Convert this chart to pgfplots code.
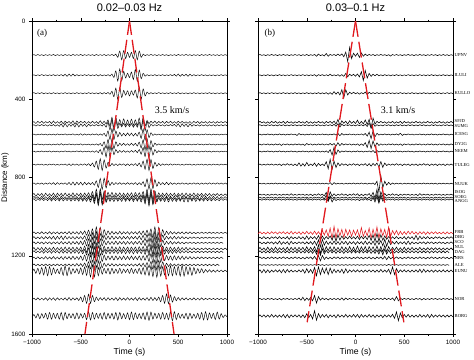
\documentclass[border=0pt]{standalone}
\usepackage{pgfplots}
\pgfplotsset{compat=1.18}
\usepackage{fontspec}
\setmainfont{Liberation Sans}
\newfontfamily\tms{Liberation Serif}
\definecolor{myred}{RGB}{225,25,30}

\pgfplotsset{
  sect/.style={
    scale only axis, width=195pt, height=313pt,
    xmin=-1000, xmax=1000, ymin=0, ymax=1600, y dir=reverse,
    xtick={-1000,-500,0,500,1000},
    xticklabels={−1000,−500,0,500,1000},
    ytick={0,400,800,1200,1600},
    minor x tick num=1,
    tick align=outside, tick pos=both,
    major tick length=3pt, minor tick length=1.5pt,
    tick style={black,line width=0.4pt},
    axis line style={line width=0.5pt},
    tick label style={font=\fontsize{6.3}{6.3}\selectfont},
    xlabel={Time (s)},
    xlabel style={font=\fontsize{8.7}{8.7}\selectfont, at={(axis description cs:0.5,0)}, anchor=center, yshift=-18pt},
    title style={font=\fontsize{11}{11}\selectfont, at={(axis description cs:0.5,1)}, anchor=south, inner sep=0pt, yshift=3pt},
    clip=false,
  },
  wa/.style={black, line width=0.45pt, smooth},
  wb/.style={black, line width=0.55pt},
}
\tikzset{lab/.style={font=\tms\fontsize{4.6}{4.6}\selectfont, anchor=west, inner sep=0pt, xshift=1.5pt}}
% \mk{name}{distance of the trace in km}{gain x10}{amplitudes, one sample every 20 s from -1000 s}
\newcommand\mk[4]{%
  \gdef\cl{}%
  \foreach \v [count=\i from 0] in {#4}{%
    \xdef\cl{\cl(\the\numexpr\i*20-1000\relax,\the\numexpr\v*#3/10+#2\relax)}%
  }%
  \global\expandafter\let\csname tr#1\endcsname\cl}
\newcommand\plt[2]{\edef\tmp{\noexpand\addplot[#1] coordinates {\csname tr#2\endcsname};}\tmp}

% ---- panel (a), 0.02-0.03 Hz ----
\mk{Aa}{174}{10}{2,-2,2,-3,2,-2,3,-2,2,-2,2,-3,3,-2,2,-2,3,-3,2,-2,3,-3,2,-2,2,-3,3,-2,2,-2,2,-2,3,-3,2,-2,2,-3,3,-2,2,-3,3,-5,12,-20,24,-22,18,-14,12,-14,18,-22,24,-20,12,-5,3,-2,2,-3,2,-2,3,-2,2,-3,2,-2,3,-2,2,-2,3,-3,2,-2,2,-3,2,-2,3,-2,2,-2,3,-3,2,-2,2,-3,2,-2,2,-2,3,-2,2,-2,2}
\mk{Ab}{277}{10}{2,-2,3,-2,2,-3,2,-2,3,-2,2,-3,3,-2,2,-3,4,-5,6,-6,5,-6,4,-3,3,-2,2,-3,2,-3,3,-2,2,-3,4,-3,3,-2,3,-3,4,-6,12,-22,30,-32,28,-20,14,-10,12,-16,22,-30,32,-26,18,-10,5,-3,3,-2,2,-3,3,-2,2,-3,3,-2,2,-3,3,-4,5,-6,6,-5,4,-5,6,-5,4,-3,3,-2,2,-3,2,-2,3,-2,2,-2,3,-2,2,-3,2,-2,2}
\mk{Ac}{369}{10}{2,-3,2,-2,2,-3,3,-2,2,-2,3,-3,2,-2,3,-2,2,-3,2,-2,3,-2,2,-3,2,-2,3,-2,2,-3,2,-2,3,-2,3,-3,4,-3,3,-4,6,-10,18,-26,32,-28,22,-14,10,-12,14,-12,10,-16,24,-30,30,-22,14,-6,4,-3,3,-2,2,-3,2,-2,3,-2,2,-3,2,-2,2,-3,3,-2,2,-2,3,-2,2,-3,2,-2,3,-2,2,-2,2,-3,2,-2,3,-2,2,-2,3,-2,2}
\mk{Ad}{518}{10}{5,-4,6,-5,4,-6,5,-4,3,-5,6,-7,5,-4,5,-6,7,-6,4,-5,6,-8,9,-7,5,-6,4,-5,6,-4,5,-6,5,-4,6,-8,7,-6,8,-12,20,-26,28,-24,16,-14,16,-18,15,-12,14,-16,15,-13,16,-22,28,-26,18,-10,7,-6,5,-7,6,-5,4,-5,6,-5,4,-6,5,-4,5,-6,4,-5,4,-3,5,-4,6,-5,4,-5,6,-4,3,-4,5,-4,3,-4,5,-4,3,-4,3,-4,3}
\mk{Ae}{533}{10}{3,-3,4,-3,3,-4,3,-3,4,-3,3,-4,4,-3,5,-7,9,-10,8,-6,5,-7,9,-10,9,-7,5,-6,8,-6,4,-3,3,-4,3,-3,4,-6,10,-16,24,-30,30,-24,16,-10,8,-10,9,-8,7,-9,10,-8,10,-16,24,-30,28,-20,12,-6,4,-3,3,-4,3,-3,4,-3,3,-4,3,-5,6,-8,9,-8,6,-7,8,-7,5,-4,3,-3,4,-3,3,-3,4,-3,3,-3,4,-3,3,-3,3,-3,3}
\mk{Af}{580}{10}{2,-2,3,-2,2,-3,2,-2,3,-2,2,-2,3,-3,2,-2,2,-3,3,-2,2,-3,3,-2,3,-4,4,-3,3,-2,3,-3,2,-3,4,-3,4,-6,10,-18,26,-30,26,-18,12,-10,8,-6,7,-8,6,-7,8,-6,8,-12,20,-28,30,-24,16,-9,5,-3,3,-2,3,-3,2,-2,3,-2,2,-3,3,-2,2,-2,3,-2,2,-3,3,-2,2,-2,3,-2,2,-3,2,-2,3,-2,2,-2,3,-2,2,-2,2}
\mk{Ag}{631}{10}{3,-2,2,-3,2,-2,3,-2,2,-2,3,-2,2,-3,3,-4,3,-2,2,-3,2,-2,3,-2,2,-3,3,-2,2,-2,3,-2,3,-3,4,-5,8,-14,20,-26,30,-28,22,-14,9,-6,5,-6,5,-4,5,-6,5,-6,8,-12,18,-24,28,-30,26,-20,12,-7,4,-3,3,-2,2,-3,2,-2,3,-2,2,-3,2,-2,3,-2,2,-2,3,-2,2,-3,2,-2,3,-2,2,-3,2,-2,3,-2,2,-2,3,-2,2}
\mk{Ah}{667}{10}{2,-2,3,-2,2,-3,2,-2,2,-3,3,-2,2,-2,3,-2,2,-3,2,-2,3,-2,2,-3,2,-3,3,-2,2,-2,3,-3,4,-4,6,-10,16,-22,28,-30,28,-22,16,-10,6,-5,4,-5,4,-3,4,-5,4,-6,6,-10,14,-20,26,-30,30,-24,18,-10,6,-4,3,-3,2,-2,3,-2,2,-3,2,-2,3,-2,2,-2,3,-2,2,-3,2,-2,3,-2,2,-3,2,-2,3,-2,2,-2,3,-2,2,-2,2}
\mk{Ai}{734}{10}{3,-2,3,-3,2,-3,3,-2,3,-3,2,-3,3,-2,3,-3,2,-3,4,-4,5,-4,3,-3,4,-3,3,-4,4,-5,6,-8,12,-18,24,-30,30,-24,18,-12,8,-6,5,-4,5,-4,3,-4,5,-4,5,-4,4,-5,6,-8,12,-18,24,-28,30,-26,20,-12,8,-6,5,-4,3,-3,3,-4,3,-3,2,-3,3,-2,3,-3,2,-3,3,-2,3,-3,2,-3,3,-2,3,-2,3,-3,2,-2,3,-3,2,-2,2}
\mk{Aj}{831}{10}{3,-3,4,-3,3,-3,4,-3,3,-4,4,-5,6,-5,4,-3,3,-4,5,-6,7,-8,8,-7,6,-7,8,-7,6,-5,5,-6,8,-14,20,-26,30,-28,22,-16,10,-7,6,-5,4,-5,4,-3,4,-5,4,-3,4,-5,6,-5,6,-10,16,-24,28,-30,26,-20,14,-8,6,-5,6,-7,6,-5,4,-3,4,-3,3,-4,3,-3,4,-3,3,-4,3,-3,4,-3,3,-3,3,-4,3,-3,3,-4,3,-3,3,-3,3}
\mk{Ak}{888}{10}{6,-7,8,-6,5,-7,9,-8,6,-5,7,-9,10,-8,6,-7,8,-9,7,-6,8,-10,9,-7,6,-8,10,-9,8,-10,12,-16,22,-28,32,-30,24,-18,14,-12,10,-12,11,-9,8,-10,9,-8,10,-9,8,-10,12,-11,9,-10,12,-16,22,-28,32,-30,26,-20,14,-10,9,-8,7,-9,8,-7,6,-8,9,-7,6,-8,10,-9,8,-6,7,-9,8,-6,5,-7,8,-6,5,-6,7,-5,4,-6,5,-4,5,-4,4}
\mk{Al}{903}{10}{5,-6,4,-5,6,-7,6,-5,6,-7,8,-7,6,-8,9,-8,6,-5,7,-8,9,-8,7,-6,8,-9,10,-8,7,-9,11,-14,18,-24,30,-32,28,-22,16,-12,10,-9,8,-10,9,-8,7,-9,10,-8,9,-8,10,-12,10,-9,11,-14,20,-26,30,-32,28,-22,16,-11,9,-10,8,-9,10,-8,7,-9,10,-12,11,-9,8,-7,9,-10,11,-9,8,-10,12,-10,9,-8,7,-6,8,-7,5,-6,7,-5,4,-5,4}
\mk{Am}{913}{10}{4,-5,6,-5,4,-6,5,-4,5,-6,7,-6,5,-6,7,-8,7,-6,5,-7,8,-7,6,-7,8,-9,8,-7,9,-10,12,-15,20,-26,30,-32,28,-20,14,-10,9,-8,10,-9,8,-7,9,-10,9,-8,7,-9,10,-9,8,-10,12,-16,22,-28,32,-30,26,-18,12,-10,9,-8,10,-11,12,-10,9,-8,10,-9,8,-10,12,-14,12,-10,8,-9,10,-8,7,-6,8,-7,6,-5,7,-6,5,-4,6,-5,4,-4,4}
\mk{An}{1083}{10}{4,-5,4,-3,5,-6,5,-4,5,-6,6,-5,4,-5,6,-5,4,-5,6,-7,7,-6,5,-6,7,-8,8,-10,12,-14,16,-20,26,-30,32,-28,22,-16,12,-10,9,-8,7,-6,7,-8,7,-6,5,-6,7,-6,5,-6,7,-8,9,-10,12,-14,16,-20,26,-30,32,-28,22,-16,12,-9,8,-7,6,-5,6,-5,4,-5,6,-5,4,-5,4,-3,4,-3,3,-4,3,-3,3,-4,3,-3,3,-3,3,-3,3,-3,3}
\mk{Ao}{1108}{10}{5,-6,5,-4,5,-6,7,-6,5,-6,7,-8,9,-8,7,-9,10,-9,7,-6,5,-6,7,-6,5,-6,8,-10,13,-16,20,-26,30,-32,28,-22,16,-12,10,-9,8,-9,8,-7,6,-7,8,-7,6,-7,8,-7,6,-7,8,-9,10,-12,14,-17,20,-24,28,-32,30,-26,20,-14,10,-8,7,-6,7,-8,7,-6,5,-6,5,-4,5,-4,3,-4,3,-3,4,-3,3,-3,3,-3,3,-3,3,-3,3,-3,3}
\mk{Ap}{1134}{10}{4,-5,6,-5,4,-5,6,-5,4,-5,6,-5,4,-5,6,-7,6,-5,6,-7,8,-7,6,-7,8,-9,10,-12,16,-20,24,-28,32,-30,26,-20,15,-12,10,-9,8,-7,8,-9,8,-7,6,-7,8,-7,6,-7,8,-7,6,-8,10,-12,14,-16,20,-24,28,-32,30,-26,20,-14,10,-8,7,-8,7,-6,5,-6,5,-4,5,-4,3,-4,3,-3,4,-3,3,-3,3,-3,3,-3,3,-3,3,-3,3,-3,3}
\mk{Aq}{1165}{10}{6,-7,8,-7,6,-8,9,-8,7,-6,8,-9,8,-7,6,-8,9,-10,9,-8,7,-9,10,-9,8,-10,12,-14,18,-22,26,-30,32,-30,26,-20,16,-14,12,-10,11,-12,10,-9,10,-11,12,-10,9,-10,11,-10,9,-10,12,-11,10,-12,14,-16,20,-24,28,-32,30,-26,22,-16,12,-10,11,-10,9,-8,10,-9,8,-7,6,-8,7,-6,5,-6,5,-4,5,-4,4,-5,4,-4,5,-4,4,-4,4,-4,4,-4,4}
\mk{Ar}{1180}{10}{5,-6,5,-4,5,-6,7,-6,5,-6,7,-6,5,-6,7,-8,7,-6,7,-8,9,-8,7,-8,9,-10,10,-12,16,-20,26,-30,30,-28,24,-20,16,-12,10,-9,10,-9,8,-9,10,-9,8,-9,10,-9,8,-9,10,-9,8,-10,9,-11,13,-16,20,-24,28,-30,30,-26,20,-16,12,-10,9,-8,9,-8,7,-8,7,-6,5,-6,5,-4,5,-4,4,-4,4,-4,4,-4,4,-4,4,-4,4,-4,4,-4,4}
\mk{As}{1211}{10}{5,-4,5,-6,5,-4,6,-7,6,-5,6,-7,6,-5,6,-7,8,-7,6,-7,8,-9,8,-7,8,-10,12,-14,16,-20,24,-28,30,-30,26,-22,18,-14,12,-10,9,-10,11,-10,9,-8,9,-10,9,-8,9,-10,9,-8,9,-10,12,-11,12,-14,18,-22,26,-30,30,-28,22,-18,14,-12,11,-10,12,-11,10,-9,8,-9,8,-7,6,-7,6,-5,6,-5,4,-5,4,-4,4,-4,4,-4,4,-4,4,-4,4}
\mk{At}{1247}{10}{4,-5,4,-4,5,-4,4,-5,4,-4,5,-4,4,-5,4,-4,5,-5,4,-5,6,-5,6,-7,6,-7,8,-10,12,-16,20,-24,26,-26,22,-18,14,-10,8,-7,6,-7,6,-5,6,-5,4,-5,6,-5,4,-5,6,-5,6,-7,8,-9,10,-12,14,-18,22,-26,26,-24,20,-16,12,-9,8,-7,6,-5,6,-5,4,-5,4,-4,4,-4,4,-4,4,-4,4,-4,4,-4,4,-4,4,-4,4,-4,4}
\mk{Au}{1278}{10}{8,-10,12,-14,16,-18,20,-22,24,-22,20,-16,12,-10,14,-18,22,-26,24,-20,16,-12,10,-12,14,-16,18,-20,22,-26,30,-32,30,-28,24,-20,16,-14,12,-14,16,-14,12,-10,12,-14,12,-10,8,-10,12,-14,12,-10,12,-14,16,-18,20,-22,24,-26,28,-30,32,-30,26,-22,20,-22,24,-26,24,-22,20,-24,26,-28,26,-22,18,-20,22,-18,14,-12,10,-12,10,-8,6,-7,6,-5,6,-5,4,-5,4,-4,4}
\mk{Av}{1421}{10}{3,-4,5,-6,5,-4,5,-6,7,-6,5,-6,7,-6,5,-4,5,-6,7,-8,7,-6,5,-6,8,-10,14,-18,22,-24,22,-18,14,-10,8,-7,6,-7,8,-7,6,-5,6,-7,8,-7,6,-5,6,-7,6,-5,6,-7,8,-7,6,-5,6,-7,8,-9,8,-7,8,-10,14,-18,22,-26,24,-20,16,-12,9,-8,7,-6,5,-6,5,-4,5,-6,5,-4,5,-6,5,-4,3,-4,3,-3,3,-3,3,-3,3,-3,3}
\mk{Aw}{1508}{10}{6,-8,10,-12,14,-12,10,-14,16,-18,16,-14,12,-14,16,-18,20,-18,14,-12,10,-12,14,-16,14,-12,10,-14,18,-22,20,-18,16,-14,12,-14,16,-18,16,-14,12,-14,16,-18,20,-18,14,-12,14,-16,18,-20,18,-16,14,-12,14,-16,18,-20,22,-20,16,-14,12,-14,16,-18,16,-14,18,-22,24,-22,18,-14,12,-10,12,-14,16,-14,12,-10,12,-14,16,-18,20,-22,20,-16,12,-14,18,-20,16,-12,8,-6,4}
% ---- panel (b), 0.03-0.1 Hz ----
\mk{Ba}{174}{15}{1,-2,1,-1,2,-1,1,-2,1,-1,2,-1,1,-2,1,-1,2,-1,1,-2,1,-1,2,-1,1,-2,2,-1,1,-2,4,-3,2,-1,3,-5,4,-2,1,-2,2,-3,2,-4,6,-10,22,-26,12,-6,4,-6,8,-7,4,-3,2,-2,1,-2,2,-1,1,-2,1,-1,2,-1,3,-2,1,-2,1,-1,2,-1,1,-2,1,-1,2,-1,1,-2,1,-1,2,-1,1,-2,1,-1,2,-1,1,-2,1,-1,2,-1,1}
\mk{Bb}{277}{15}{1,-1,2,-1,1,-2,1,-1,2,-1,1,-2,1,-1,2,-1,1,-2,1,-1,2,-1,1,-2,1,-1,2,-1,1,-2,3,-2,1,-2,2,-1,2,-3,2,-1,2,-2,3,-2,4,-6,5,-3,2,-3,3,-4,6,-12,18,-16,10,-6,4,-3,2,-3,2,-1,2,-2,1,-1,2,-1,1,-2,1,-1,2,-1,1,-2,1,-1,2,-1,1,-2,1,-1,2,-1,1,-2,1,-1,2,-1,1,-2,1,-1,2,-1,1}
\mk{Bc}{369}{15}{1,-2,1,-1,2,-1,1,-2,1,-1,2,-1,1,-2,1,-1,2,-1,1,-2,1,-1,2,-1,1,-2,1,-1,2,-1,1,-2,2,-1,2,-2,3,-2,4,-5,3,-4,6,-12,16,-12,6,-3,2,-3,2,-2,3,-2,2,-4,5,-3,2,-2,1,-2,1,-1,2,-1,1,-2,1,-1,2,-1,1,-2,1,-1,2,-1,1,-2,1,-1,2,-1,1,-2,1,-1,2,-1,1,-2,1,-1,2,-1,1,-2,1,-1,2}
\mk{Bd}{518}{15}{2,-3,2,-2,3,-2,3,-3,2,-3,3,-2,2,-3,4,-3,2,-2,3,-2,2,-3,2,-2,3,-4,3,-2,3,-2,2,-3,2,-2,4,-3,2,-3,3,-4,6,-10,9,-5,3,-4,6,-5,3,-3,4,-7,5,-3,5,-8,7,-10,18,-14,6,-3,2,-3,2,-2,3,-2,2,-3,3,-2,2,-3,4,-3,2,-2,3,-2,2,-3,2,-2,3,-2,2,-3,2,-2,3,-2,2,-3,2,-2,3,-2,2,-3,2}
\mk{Be}{533}{15}{1,-2,2,-1,2,-2,1,-2,2,-1,2,-2,1,-2,2,-1,2,-2,1,-2,2,-1,2,-2,1,-2,2,-1,2,-2,1,-2,2,-1,2,-2,1,-2,2,-3,3,-5,6,-4,2,-2,1,-2,2,-1,2,-2,1,-2,2,-3,4,-8,10,-6,3,-2,2,-1,2,-2,1,-2,2,-1,2,-2,1,-2,2,-1,2,-2,1,-2,2,-1,2,-2,1,-2,2,-1,2,-2,1,-2,2,-1,2,-2,1,-2,2,-1,2}
\mk{Bf}{580}{15}{1,-1,2,-1,1,-2,1,-1,2,-1,1,-2,1,-1,2,-1,1,-2,1,-1,3,-3,1,-1,2,-1,1,-2,1,-1,2,-1,1,-2,1,-1,2,-1,1,-2,2,-3,4,-3,2,-1,1,-2,1,-1,2,-1,1,-2,2,-3,5,-8,14,-12,8,-4,2,-1,1,-2,1,-1,2,-1,1,-2,2,-4,3,-1,1,-2,1,-1,2,-1,1,-2,1,-1,2,-1,1,-2,1,-1,2,-1,1,-2,1,-1,2,-1,1}
\mk{Bg}{631}{15}{2,-1,2,-2,1,-2,2,-1,2,-2,1,-2,3,-2,1,-2,2,-1,2,-2,1,-2,2,-1,3,-3,1,-2,2,-1,2,-2,1,-2,2,-1,2,-3,2,-3,5,-6,4,-3,2,-2,1,-2,2,-1,2,-2,3,-2,3,-6,10,-14,14,-12,8,-5,3,-2,2,-1,2,-2,1,-2,2,-1,2,-2,3,-2,1,-2,2,-1,2,-2,1,-2,2,-1,2,-2,1,-2,2,-1,2,-2,1,-2,2,-1,2,-2,1}
\mk{Bh}{667}{15}{1,-1,2,-1,1,-2,1,-1,2,-1,1,-2,1,-1,2,-1,1,-2,1,-1,2,-1,1,-2,1,-1,2,-1,1,-2,1,-1,2,-1,2,-2,3,-6,12,-14,10,-5,3,-2,1,-2,1,-1,2,-1,1,-2,1,-1,2,-1,1,-2,2,-3,4,-3,2,-1,1,-2,1,-1,2,-1,1,-2,1,-1,2,-1,1,-2,1,-1,2,-1,1,-2,1,-1,2,-1,1,-2,1,-1,2,-1,1,-2,1,-1,2,-1,1}
\mk{Bi}{734}{15}{1,-2,2,-1,2,-2,1,-2,2,-1,2,-2,3,-2,2,-3,2,-2,3,-2,4,-6,5,-3,5,-7,4,-2,3,-5,6,-4,3,-2,4,-10,14,-18,16,-12,10,-6,4,-3,2,-2,3,-2,2,-3,2,-2,3,-2,2,-3,4,-3,5,-4,3,-5,8,-10,9,-5,3,-2,2,-2,2,-3,2,-2,3,-2,2,-2,3,-2,2,-2,3,-2,2,-3,2,-2,3,-2,2,-2,3,-2,2,-2,3,-2,2,-2,2}
\mk{Bj}{831}{15}{1,-1,1,-1,2,-1,1,-1,1,-2,1,-1,1,-1,2,-1,1,-1,1,-1,2,-1,1,-1,1,-2,1,-1,1,-1,1,-2,1,-1,1,-1,2,-3,4,-3,2,-1,1,-1,2,-1,1,-1,1,-2,1,-1,1,-2,1,-1,2,-1,1,-2,3,-8,30,-26,14,-8,5,-4,3,-2,2,-1,1,-1,2,-1,1,-1,1,-1,2,-1,1,-1,1,-2,1,-1,1,-1,1,-1,2,-1,1,-1,1,-1,1,-1,1}
\mk{Bk}{888}{15}{2,-2,1,-2,2,-1,2,-2,1,-2,2,-1,2,-2,1,-2,2,-3,2,-1,2,-2,1,-2,2,-1,2,-2,3,-2,2,-3,2,-2,4,-8,14,-10,5,-3,3,-2,2,-3,2,-2,3,-2,2,-3,2,-3,4,-2,3,-2,2,-4,6,-8,12,-18,16,-10,6,-4,3,-2,2,-3,2,-2,3,-2,2,-2,1,-2,2,-1,2,-2,3,-4,2,-2,1,-2,2,-1,2,-2,1,-2,2,-1,2,-2,1,-2,1}
\mk{Bl}{903}{15}{1,-2,2,-1,2,-2,1,-2,2,-1,2,-2,1,-2,2,-1,2,-2,1,-2,2,-1,2,-2,1,-2,2,-1,2,-2,1,-2,2,-3,5,-8,10,-6,3,-2,2,-1,2,-2,1,-2,2,-1,2,-2,1,-2,2,-1,2,-2,3,-2,3,-5,8,-12,14,-10,6,-3,2,-2,1,-2,2,-1,2,-2,1,-2,2,-1,2,-2,1,-2,2,-1,2,-2,1,-2,2,-1,2,-2,1,-2,2,-1,2,-2,1,-2,1}
\mk{Bm}{913}{15}{2,-1,2,-2,1,-2,2,-1,2,-2,1,-2,2,-1,2,-2,1,-2,2,-1,2,-2,1,-2,2,-3,2,-1,2,-2,1,-2,2,-1,2,-3,6,-10,8,-4,3,-2,2,-1,2,-2,1,-2,2,-1,2,-2,3,-2,2,-3,2,-2,4,-6,8,-10,12,-9,5,-3,2,-2,1,-2,2,-1,2,-2,1,-2,2,-1,2,-2,1,-2,2,-1,2,-2,1,-2,2,-1,2,-2,1,-2,2,-1,2,-2,1,-2,1}
\mk{Bn}{1083}{15}{3,-4,3,-2,4,-3,3,-4,2,-3,4,-3,2,-4,3,-3,4,-5,4,-3,3,-4,5,-3,4,-5,4,-3,5,-6,5,-4,6,-8,7,-10,12,-16,20,-22,18,-14,10,-12,16,-12,8,-10,12,-9,7,-10,14,-18,12,-8,10,-16,18,-12,14,-20,18,-14,10,-12,16,-20,12,-8,6,-8,7,-5,6,-4,5,-6,4,-5,4,-3,5,-4,3,-4,5,-3,4,-3,3,-4,3,-2,3,-3,4,-3,3,-2,3}
\mk{Bo}{1108}{15}{3,-2,3,-4,3,-2,4,-3,2,-3,3,-4,3,-2,3,-4,5,-4,3,-2,3,-4,4,-3,5,-6,5,-4,3,-4,5,-7,8,-6,5,-4,4,-6,8,-10,12,-10,8,-6,5,-4,4,-5,4,-3,4,-5,6,-5,4,-5,6,-8,9,-10,12,-14,12,-10,8,-6,5,-4,4,-3,3,-4,3,-2,3,-4,5,-4,3,-4,6,-8,7,-5,4,-3,3,-4,3,-2,3,-3,2,-3,3,-2,3,-3,2,-3,2}
\mk{Bp}{1134}{15}{2,-3,3,-2,3,-3,2,-3,4,-3,4,-6,5,-3,3,-4,6,-5,3,-2,3,-3,2,-3,4,-3,3,-4,5,-6,8,-10,14,-12,8,-6,5,-4,5,-6,5,-4,6,-5,4,-5,6,-4,3,-4,5,-4,3,-4,5,-6,5,-4,5,-6,8,-7,6,-8,10,-12,12,-9,6,-4,4,-5,4,-3,3,-4,5,-6,5,-3,3,-2,3,-3,2,-3,4,-3,2,-3,3,-2,2,-3,2,-2,3,-2,2,-3,2}
\mk{Bq}{1165}{15}{4,-5,4,-3,5,-6,5,-4,5,-6,5,-4,3,-4,5,-6,6,-5,4,-5,6,-5,4,-5,6,-7,6,-5,6,-8,10,-14,16,-14,10,-8,6,-7,8,-7,6,-5,6,-7,6,-5,6,-8,7,-6,8,-9,8,-7,6,-8,9,-8,6,-7,8,-10,9,-8,10,-12,10,-8,6,-5,5,-6,5,-4,5,-6,5,-4,4,-5,4,-3,4,-5,4,-3,4,-4,3,-4,3,-4,3,-3,4,-3,3,-3,3,-3,3}
\mk{Br}{1180}{15}{3,-4,3,-3,4,-3,3,-4,3,-3,4,-3,3,-4,3,-3,4,-3,3,-4,4,-5,4,-3,4,-5,4,-4,5,-6,8,-10,12,-10,7,-5,4,-5,4,-4,5,-4,3,-4,5,-4,3,-4,4,-5,4,-3,4,-5,4,-3,4,-5,5,-4,5,-6,7,-8,10,-9,8,-6,5,-4,4,-3,3,-4,3,-3,4,-3,3,-4,3,-3,4,-3,3,-3,3,-3,4,-3,3,-3,3,-3,3,-3,3,-3,3}
\mk{Bs}{1211}{15}{2,-3,2,-2,3,-2,2,-3,2,-2,3,-2,2,-3,2,-2,3,-2,2,-3,2,-2,3,-2,3,-3,2,-3,4,-5,6,-8,10,-8,5,-3,3,-2,3,-3,2,-3,3,-2,2,-3,2,-2,3,-2,2,-3,2,-2,3,-2,2,-3,3,-2,3,-3,2,-3,4,-5,6,-5,3,-2,2,-3,2,-2,3,-2,2,-3,2,-2,3,-2,2,-3,2,-2,3,-2,2,-3,2,-2,3,-2,2,-3,2,-2,3,-2,2}
\mk{Bt}{1247}{15}{1,-1,1,-1,1,-1,1,-1,1,-1,1,-1,1,-1,1,-1,1,-1,1,-1,1,-1,1,-1,1,-1,1,-1,1,-1,1,-2,1,-1,2,-1,1,-1,1,-1,1,-1,1,-1,1,-1,1,-1,1,-1,1,-1,1,-1,1,-1,1,-1,1,-1,1,-1,1,-1,1,-1,2,-2,1,-1,1,-1,1,-1,1,-1,1,-1,1,-1,1,-1,1,-1,1,-1,1,-1,1,-1,1,-1,1,-1,1,-1,1,-1,1}
\mk{Bu}{1278}{15}{3,-4,6,-5,6,-4,5,-3,3,-4,3,-4,6,-5,6,-5,4,-3,3,-2,3,-4,3,-5,7,-8,6,-5,7,-12,16,-14,12,-10,8,-10,12,-10,8,-6,5,-4,5,-6,8,-7,6,-4,3,-4,3,-4,3,-3,4,-3,3,-4,3,-3,4,-3,4,-5,4,-3,4,-6,10,-14,12,-8,5,-4,3,-4,3,-3,4,-3,3,-4,4,-6,5,-6,4,-3,3,-3,4,-3,3,-3,3,-4,3,-3,3,-3,3}
\mk{Bv}{1421}{15}{1,-2,2,-1,2,-2,1,-2,2,-1,2,-2,3,-2,1,-2,2,-1,2,-2,2,-3,4,-6,5,-3,4,-5,6,-12,14,-8,4,-3,2,-2,3,-2,2,-2,2,-2,3,-4,4,-3,2,-2,1,-2,2,-1,2,-2,3,-2,2,-2,3,-2,2,-2,1,-2,2,-3,2,-2,2,-3,5,-8,6,-3,2,-2,1,-2,2,-1,2,-2,1,-2,3,-2,2,-1,2,-2,1,-2,2,-1,2,-2,1,-2,2,-1,2}
\mk{Bw}{1508}{15}{3,-4,3,-4,4,-3,4,-5,4,-3,4,-3,4,-5,6,-5,6,-4,3,-4,3,-4,5,-4,6,-8,6,-5,10,-18,14,-8,6,-5,4,-5,6,-4,3,-4,6,-5,4,-3,4,-5,4,-3,4,-5,4,-5,6,-5,4,-3,4,-5,4,-4,5,-4,3,-4,5,-4,3,-4,4,-6,8,-14,16,-10,6,-5,4,-5,4,-3,4,-3,4,-5,4,-3,4,-5,6,-5,4,-3,3,-4,3,-3,4,-3,3,-3,3}

\begin{document}
\begin{tikzpicture}
\path[use as bounding box] (0,0) rectangle (474pt,-359pt);
\begin{axis}[sect, at={(32pt,-334pt)}, anchor=south west,
  title={0.02–0.03 Hz},
  yticklabels={0,400,800,1200,1600},
  ylabel={Distance (km)},
  ylabel style={font=\fontsize{8}{8}\selectfont, at={(axis description cs:-0.138,0.5)}, anchor=center},
]
\plt{wa}{Aa}\plt{wa}{Ab}\plt{wa}{Ac}\plt{wa}{Ad}\plt{wa}{Ae}\plt{wa}{Af}
\plt{wa}{Ag}\plt{wa}{Ah}\plt{wa}{Ai}\plt{wa}{Aj}\plt{wa}{Ak}\plt{wa}{Al}
\plt{wa}{Am}\plt{wa}{An}\plt{wa}{Ao}\plt{wa}{Ap}\plt{wa}{Aq}\plt{wa}{Ar}
\plt{wa}{As}\plt{wa}{At}\plt{wa}{Au}\plt{wa}{Av}\plt{wa}{Aw}
\addplot[myred, line width=1.3pt, dash pattern=on 14pt off 5pt] coordinates {(0,0) (-457,1600)};
\addplot[myred, line width=1.3pt, dash pattern=on 14pt off 5pt] coordinates {(0,0) (457,1600)};
\node[font=\tms\fontsize{9}{9}\selectfont] at (axis cs:-897,62) {(a)};
\node[font=\tms\fontsize{10}{10}\selectfont, fill=white, inner sep=1pt] at (axis cs:436,457) {3.5 km/s};
\end{axis}
\begin{axis}[sect, at={(258pt,-334pt)}, anchor=south west,
  title={0.03–0.1 Hz},
  yticklabels={},
]
\plt{wb}{Ba}\plt{wb}{Bb}\plt{wb}{Bc}\plt{wb}{Bd}\plt{wb}{Be}\plt{wb}{Bf}
\plt{wb}{Bg}\plt{wb}{Bh}\plt{wb}{Bi}\plt{wb}{Bj}\plt{wb}{Bk}\plt{wb}{Bl}
\plt{wb}{Bm}\plt{myred, line width=0.55pt}{Bn}\plt{wb}{Bo}\plt{wb}{Bp}\plt{wb}{Bq}\plt{wb}{Br}
\plt{wb}{Bs}\plt{wb}{Bt}\plt{wb}{Bu}\plt{wb}{Bv}\plt{wb}{Bw}
\addplot[myred, line width=1.3pt, dash pattern=on 16pt off 5pt] coordinates {(0,0) (-496,1540)};
\addplot[myred, line width=1.3pt, dash pattern=on 16pt off 5pt] coordinates {(0,0) (496,1540)};
\node[font=\tms\fontsize{9}{9}\selectfont] at (axis cs:-877,62) {(b)};
\node[font=\tms\fontsize{10}{10}\selectfont, fill=white, inner sep=1pt] at (axis cs:436,457) {3.1 km/s};
\node[lab] at (axis cs:1000,174) {UPNV};
\node[lab] at (axis cs:1000,277) {ILULI};
\node[lab] at (axis cs:1000,369) {KULLO};
\node[lab] at (axis cs:1000,509) {SFJD};
\node[lab] at (axis cs:1000,537) {SUMG};
\node[lab] at (axis cs:1000,580) {ICESG};
\node[lab] at (axis cs:1000,631) {DY2G};
\node[lab] at (axis cs:1000,667) {NEEM};
\node[lab] at (axis cs:1000,734) {TULEG};
\node[lab] at (axis cs:1000,831) {NUUK};
\node[lab] at (axis cs:1000,876) {ISOG};
\node[lab] at (axis cs:1000,899) {SOEG};
\node[lab] at (axis cs:1000,922) {ANGG};
\node[lab] at (axis cs:1000,1080) {FRB};
\node[lab] at (axis cs:1000,1104) {DBG};
\node[lab] at (axis cs:1000,1128) {SCO};
\node[lab] at (axis cs:1000,1157) {NUL};
\node[lab] at (axis cs:1000,1182) {DAG};
\node[lab] at (axis cs:1000,1211) {NRS};
\node[lab] at (axis cs:1000,1247) {ALE};
\node[lab] at (axis cs:1000,1278) {EUNU};
\node[lab] at (axis cs:1000,1421) {NOR};
\node[lab] at (axis cs:1000,1508) {BORG};
\end{axis}
\end{tikzpicture}
\end{document}
